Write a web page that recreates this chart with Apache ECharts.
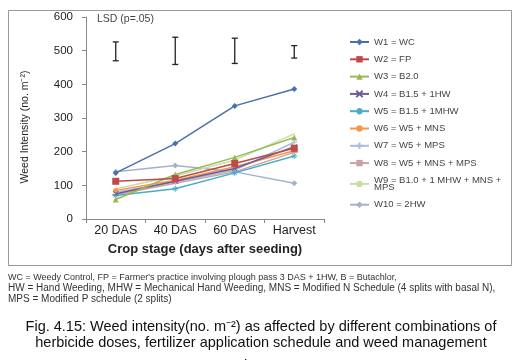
<!DOCTYPE html>
<html><head><meta charset="utf-8">
<script src="https://cdn.jsdelivr.net/npm/echarts@6/dist/echarts.min.js"></script>
<style>html,body{margin:0;padding:0;background:#fff}#c{width:522px;height:360px}</style>
</head><body><div id="c"></div>
<script>
const categories = ['20 DAS', '40 DAS', '60 DAS', 'Harvest'];
const yTicks = [0, 100, 200, 300, 400, 500, 600];
const W1 = [137, 224, 336, 386];
const W2 = [112, 120, 165, 210];
const W3 = [58, 132, 183, 242];
const W4 = [75, 112, 150, 215];
const W5 = [70, 90, 137, 187];
const W6 = [85, 115, 155, 203];
const W7 = [80, 110, 145, 228];
const W8 = [72, 106, 140, 198];
const W9 = [90, 128, 175, 253];
const W10 = [140, 159, 140, 106];
const lsdHigh = [526, 540, 537, 515];
const lsdLow = [470, 459, 462, 478];
const seriesNames = ['W1 = WC', 'W2 = FP', 'W3 = B2.0', 'W4 = B1.5 + 1HW', 'W5 = B1.5 + 1MHW',
  'W6 = W5 + MNS', 'W7 = W5 + MPS', 'W8 = W5 + MNS + MPS', 'W9 = B1.0 + 1 MHW + MNS +\nMPS', 'W10 = 2HW'];
const seriesData = [W1, W2, W3, W4, W5, W6, W7, W8, W9, W10];
const colors = ['#4A70A8', '#BE4B48', '#98B954', '#6F5A96', '#4AACC5', '#F79646', '#A9BEDF', '#C9A3A2', '#CBDDA6', '#A3B2CC'];
const symbols = ['diamond', 'rect', 'triangle', 'path://M0,0L10,10M10,0L0,10',
  'path://M5,0L5,10M0,5L10,5M1.5,1.5L8.5,8.5M8.5,1.5L1.5,8.5', 'circle',
  'path://M5,0L5,10M0,5L10,5', 'rect', 'circle', 'diamond'];
const symbolSizes = [6, 7, 6, 5, 6, 5, 6, [7, 1.5], 1, 6];
const strokeSymbols = [3, 4, 6];

const chart = echarts.init(document.getElementById('c'));
const series = seriesNames.map((n, i) => ({
  name: n, type: 'line', data: seriesData[i],
  symbol: symbols[i], symbolSize: symbolSizes[i],
  lineStyle: { color: colors[i], width: 1.5 },
  itemStyle: { color: colors[i], borderColor: colors[i], borderWidth: strokeSymbols.includes(i) ? 1 : 0 },
  animation: false, z: 10 - i
}));
series.push({
  type: 'custom', name: 'LSD', animation: false, silent: true,
  data: categories.map((c, i) => [i, lsdLow[i], lsdHigh[i]]),
  renderItem: (params, api) => {
    const lo = api.coord([api.value(0), api.value(1)]);
    const hi = api.coord([api.value(0), api.value(2)]);
    const s = { stroke: '#222', lineWidth: 1.3 };
    return { type: 'group', children: [
      { type: 'line', shape: { x1: lo[0], y1: lo[1], x2: hi[0], y2: hi[1] }, style: s },
      { type: 'line', shape: { x1: lo[0] - 3, y1: lo[1], x2: lo[0] + 3, y2: lo[1] }, style: s },
      { type: 'line', shape: { x1: hi[0] - 3, y1: hi[1], x2: hi[0] + 3, y2: hi[1] }, style: s }
    ]};
  }
});
chart.setOption({
  animation: false,
  grid: { left: 86, right: 198, top: 17, bottom: 141 },
  xAxis: {
    type: 'category', data: categories, boundaryGap: true,
    axisLine: { lineStyle: { color: '#888' } },
    axisTick: { show: true, length: 4, lineStyle: { color: '#888' } },
    axisLabel: { fontFamily: 'Liberation Sans, Arial', fontSize: 12.5, color: '#222', margin: 5 },
    name: 'Crop stage (days after seeding)', nameLocation: 'middle', nameGap: 24,
    nameTextStyle: { fontFamily: 'Liberation Sans, Arial', fontSize: 13, fontWeight: 'bold', color: '#222' }
  },
  yAxis: {
    type: 'value', min: yTicks[0], max: yTicks[yTicks.length - 1], interval: 100,
    axisLine: { show: true, lineStyle: { color: '#888' } },
    axisTick: { show: true, length: 4, lineStyle: { color: '#888' } },
    splitLine: { show: false },
    axisLabel: { fontFamily: 'Liberation Sans, Arial', fontSize: 11.5, color: '#222', margin: 13 },
    name: 'Weed Intensity (no. m⁻²)', nameLocation: 'middle', nameGap: 55, nameRotate: 90,
    nameTextStyle: { fontFamily: 'Liberation Sans, Arial', fontSize: 10.5, color: '#222', padding: [0, 18, 0, 0] }
  },
  legend: {
    orient: 'vertical', left: 349, top: 37, padding: 0, itemWidth: 19, itemHeight: 8, itemGap: 7.3,
    data: seriesNames,
    formatter: (name) => name.indexOf('\n') >= 0 ? name.split('\n').map(s => '{t|' + s + '}').join('\n') : name,
    textStyle: { fontFamily: 'Liberation Sans, Arial', fontSize: 9.5, color: '#444', lineHeight: 8,
      rich: { t: { fontFamily: 'Liberation Sans, Arial', fontSize: 9.5, color: '#444', lineHeight: 7 } } }
  },
  graphic: [
    { type: 'rect', shape: { x: 8.5, y: 10.5, width: 503, height: 255 }, style: { fill: 'none', stroke: '#999', lineWidth: 1 }, z: -1 },
    { type: 'text', left: 97, top: 14, style: { text: 'LSD (p=.05)', font: '10.5px Liberation Sans, Arial', fill: '#444' } },
    { type: 'text', left: 8, top: 273, style: { text: "WC = Weedy Control, FP = Farmer's practice involving plough pass 3 DAS + 1HW, B = Butachlor,", font: '9px Liberation Sans, Arial', fill: '#333' } },
    { type: 'text', left: 8, top: 283, style: { text: 'HW = Hand Weeding, MHW = Mechanical Hand Weeding, MNS = Modified N Schedule (4 splits with basal N),', font: '10px Liberation Sans, Arial', fill: '#333' } },
    { type: 'text', left: 8, top: 294, style: { text: 'MPS = Modified P schedule (2 splits)', font: '10px Liberation Sans, Arial', fill: '#333' } },
    { type: 'text', left: 'center', top: 319, style: { text: 'Fig. 4.15: Weed intensity(no. m⁻²) as affected by different combinations of', font: '14.5px Liberation Sans, Arial', fill: '#111' } },
    { type: 'text', left: 'center', top: 335, style: { text: 'herbicide doses, fertilizer application schedule and weed management', font: '14.5px Liberation Sans, Arial', fill: '#111' } },
    { type: 'text', left: 'center', top: 358, style: { text: 'practices, 2008', font: '14.5px Liberation Sans, Arial', fill: '#111' } }
  ],
  series: series
});
</script></body></html>
